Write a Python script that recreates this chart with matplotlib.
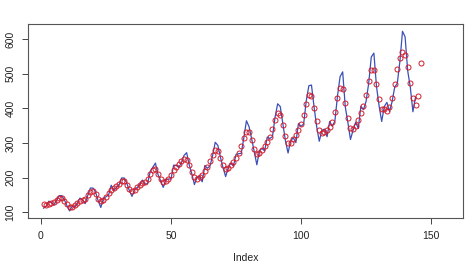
import matplotlib
matplotlib.use("Agg")
import matplotlib.pyplot as plt

plt.rcParams['font.family'] = ['Liberation Sans', 'DejaVu Sans']

# monthly passengers (blue line), index 1..144
passengers = [112, 118, 132, 129, 121, 135, 148, 148, 136, 119, 104, 118,
              115, 126, 141, 135, 125, 149, 170, 170, 158, 133, 114, 140,
              145, 150, 178, 163, 172, 178, 199, 199, 184, 162, 146, 166,
              171, 180, 193, 181, 183, 218, 230, 242, 209, 191, 172, 194,
              196, 196, 236, 235, 229, 243, 264, 272, 237, 211, 180, 201,
              204, 188, 235, 227, 234, 264, 302, 293, 259, 229, 203, 229,
              242, 233, 267, 269, 270, 315, 364, 347, 312, 274, 237, 278,
              284, 277, 317, 313, 318, 374, 413, 405, 355, 306, 271, 306,
              315, 301, 356, 348, 355, 422, 465, 467, 404, 347, 305, 336,
              340, 318, 362, 348, 363, 435, 491, 505, 404, 359, 310, 337,
              360, 342, 406, 396, 420, 472, 548, 559, 463, 407, 362, 405,
              417, 391, 419, 461, 472, 535, 622, 606, 508, 461, 390, 432]

# fitted values (red circles), index 1..146
fitted = [124, 120, 125, 127, 130, 136, 141, 141, 133, 123, 115, 115,
          120, 127, 132, 135, 139, 149, 159, 161, 152, 139, 132, 136,
          145, 155, 164, 169, 175, 182, 190, 189, 180, 168, 161, 164,
          172, 179, 184, 188, 197, 211, 222, 224, 211, 197, 188, 189,
          197, 209, 222, 230, 238, 247, 254, 252, 236, 216, 201, 197,
          201, 208, 219, 230, 247, 265, 279, 277, 258, 237, 225, 227,
          236, 246, 257, 270, 290, 314, 333, 331, 309, 283, 268, 270,
          280, 292, 304, 318, 340, 367, 386, 381, 352, 320, 301, 300,
          310, 322, 337, 354, 381, 413, 437, 434, 401, 362, 336, 329,
          333, 338, 347, 361, 390, 430, 458, 455, 416, 372, 343, 339,
          350, 366, 386, 406, 439, 479, 510, 509, 470, 426, 399, 397,
          392, 405, 431, 470, 512, 546, 563, 553, 520, 474, 430, 410,
          434, 530]

idx_line = list(range(1, len(passengers) + 1))
idx_fit = list(range(1, len(fitted) + 1))

fig = plt.figure(figsize=(4.74, 2.74), dpi=100)
ax = fig.add_axes([0.059, 0.204, 0.918, 0.708])

ax.plot(idx_line, passengers, color='#3b4fb8', lw=0.9)
ax.plot(idx_fit, fitted, 'o', mfc='none', mec='#d01c2c', ms=3.6, mew=0.7)

ax.set_xlim(-5, 162.3)
ax.set_ylim(83.3, 642.7)
ax.set_xticks([0, 50, 100, 150])
ax.set_yticks([100, 200, 300, 400, 500, 600])
ax.set_xlabel('Index', fontsize=7.5, color='#222222', labelpad=9)

for s in ax.spines.values():
    s.set_color('#555555')
    s.set_linewidth(0.8)
ax.tick_params(colors='#444444', labelcolor='#222222', labelsize=7.5,
               length=4, width=0.7, pad=5)
for lab in ax.get_yticklabels():
    lab.set_rotation(90)
    lab.set_va('center')

fig.savefig('out.png', dpi=100)
